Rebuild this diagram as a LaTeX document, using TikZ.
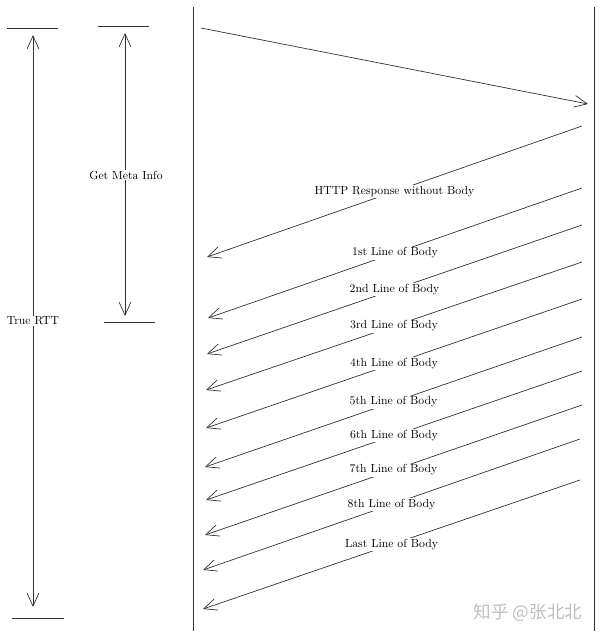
\documentclass[tikz,border=0pt]{standalone}
\usepackage{fontspec}
\newfontfamily\cjk{Noto Sans CJK SC}
\usetikzlibrary{arrows.meta}

\tikzset{
	lbl/.style={fill=white, inner sep=1pt, font=\normalsize},
	tick/.style={line width=0.7pt},
}

\begin{document}
\begin{tikzpicture}[x=0.03cm, y=-0.03cm, line width=0.6pt, draw=black!80, >={Straight Barb[length=11pt, width=10pt]}]
				\useasboundingbox (0,0) rectangle (600,638);
				% client and server
				\coordinate (CT) at (193,7);
				\coordinate (CB) at (193,631);
				\coordinate (ST) at (594,7);
				\coordinate (SB) at (594,631);
				\draw (CT) -- (CB);
				\draw (ST) -- (SB);
				% true rtt
				\coordinate (RTT1) at (7,28);
				\coordinate (RTT2) at (58,28);
				\coordinate (RTT3) at (12,618);
				\coordinate (RTT4) at (64,618);
				\coordinate (RTTa) at (33,35);
				\coordinate (RTTb) at (33,607);
				\draw[tick] (RTT1) -- (RTT2);
				\draw[tick] (RTT3) -- (RTT4);
				\draw[<->] (RTTa) -- node[lbl] (RTT) {True RTT} (RTTb);
				% meta info
				\coordinate (GMI1) at (98,26);
				\coordinate (GMI2) at (149,26);
				\coordinate (GMI3) at (104,322);
				\coordinate (GMI4) at (155,322);
				\coordinate (GMIa) at (125,33);
				\coordinate (GMIb) at (125,316);
				\draw[tick] (GMI1) -- (GMI2);
				\draw[tick] (GMI3) -- (GMI4);
				\draw[<->] (GMIa) -- (GMIb);
				\node[lbl] (GMI) at (126,175) {Get Meta Info};
				% request
				\coordinate (REQa) at (201,28);
				\coordinate (REQb) at (588,104);
				\draw[->] (REQa) -- (REQb);
				% response
				\coordinate (H0) at (582,126);
				\coordinate (H1) at (207,257);
				\draw[->] (H0) -- node[lbl] (HTTP) {HTTP Response without Body} (H1);
				\coordinate (L1a) at (582,188);
				\coordinate (L1b) at (208,318);
				\draw[->] (L1a) -- node[lbl] (LINE1) {1st Line of Body} (L1b);
				\coordinate (L2a) at (582,225);
				\coordinate (L2b) at (207,354);
				\draw[->] (L2a) -- node[lbl] (LINE2) {2nd Line of Body} (L2b);
				\coordinate (L3a) at (582,262);
				\coordinate (L3b) at (206,390);
				\draw[->] (L3a) -- node[lbl] (LINE3) {3rd Line of Body} (L3b);
				\coordinate (L4a) at (582,299);
				\coordinate (L4b) at (206,428);
				\draw[->] (L4a) -- node[lbl] (LINE4) {4th Line of Body} (L4b);
				\coordinate (L5a) at (582,337);
				\coordinate (L5b) at (205,467);
				\draw[->] (L5a) -- node[lbl] (LINE5) {5th Line of Body} (L5b);
				\coordinate (L6a) at (582,371);
				\coordinate (L6b) at (206,500);
				\draw[->] (L6a) -- node[lbl] (LINE6) {6th Line of Body} (L6b);
				\coordinate (L7a) at (582,405);
				\coordinate (L7b) at (205,535);
				\draw[->] (L7a) -- node[lbl] (LINE7) {7th Line of Body} (L7b);
				\coordinate (L8a) at (580,439);
				\coordinate (L8b) at (203,570);
				\draw[->] (L8a) -- node[lbl] (LINE8) {8th Line of Body} (L8b);
				\coordinate (L9a) at (580,480);
				\coordinate (L9b) at (203,609);
				\draw[->] (L9a) -- node[lbl] (LINEL) {Last Line of Body} (L9b);
				% watermark
				\node[text=black!25, font=\cjk\fontsize{15}{18}\selectfont] (WM) at (528,613) {知乎 @张北北};
			\end{tikzpicture}
\end{document}
